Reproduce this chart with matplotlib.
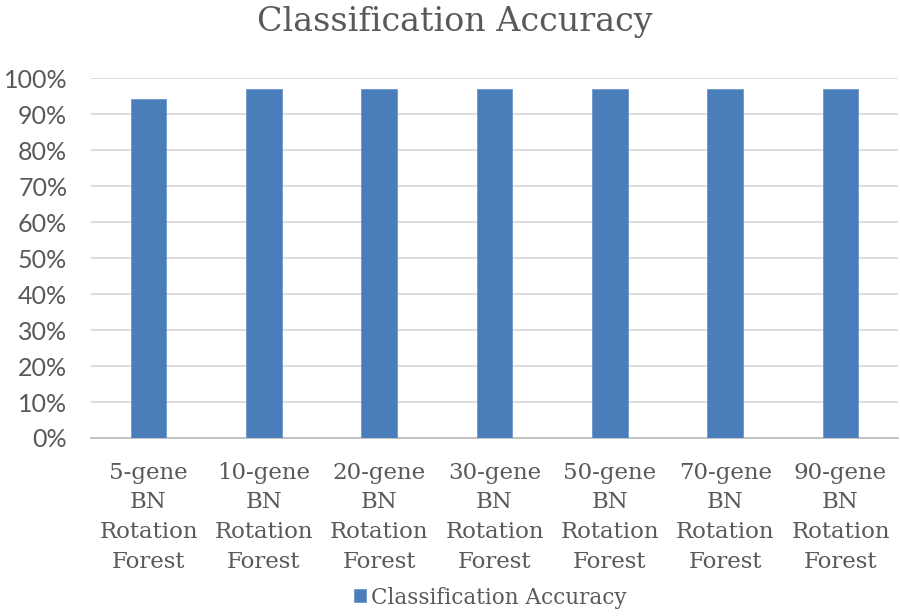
import matplotlib
matplotlib.use("Agg")
import matplotlib.pyplot as plt
from matplotlib.ticker import PercentFormatter

categories = ["5-gene\nBN\nRotation\nForest", "10-gene\nBN\nRotation\nForest",
              "20-gene\nBN\nRotation\nForest", "30-gene\nBN\nRotation\nForest",
              "50-gene\nBN\nRotation\nForest", "70-gene\nBN\nRotation\nForest",
              "90-gene\nBN\nRotation\nForest"]
accuracy = [0.942, 0.970, 0.970, 0.970, 0.970, 0.970, 0.970]
yticks = [0.0, 0.1, 0.2, 0.3, 0.4, 0.5, 0.6, 0.7, 0.8, 0.9, 1.0]

TXT = "#595959"
BAR = "#4a7ebb"
SERIF = "DejaVu Serif"
SANS = "Lato"

fig = plt.figure(figsize=(9, 6.16), dpi=100)
ax = fig.add_axes([0.101, 0.289, 0.897, 0.584])

x = range(len(categories))
ax.bar(x, accuracy, width=0.31, color=BAR, edgecolor="#6d97cc", linewidth=0.6,
       zorder=3, label="Classification Accuracy")

ax.set_xlim(-0.5, len(categories) - 0.5)
ax.set_ylim(0, 1)
ax.set_yticks(yticks)
ax.yaxis.set_major_formatter(PercentFormatter(1.0, decimals=0))
ax.grid(axis="y", color="#d9d9d9", linewidth=1.3, zorder=0)
for s in ["top", "right", "left"]:
    ax.spines[s].set_visible(False)
ax.spines["bottom"].set_color("#bfbfbf")
ax.spines["bottom"].set_linewidth(1.3)
ax.tick_params(axis="both", length=0, colors=TXT)
ax.tick_params(axis="y", pad=17)
ax.tick_params(axis="x", pad=17)

for lab in ax.get_yticklabels():
    lab.set_fontfamily(SANS)
    lab.set_fontsize(18)
ax.set_xticks(list(x))
ax.set_xticklabels(categories, fontfamily=SERIF, fontsize=16.5, color=TXT,
                   linespacing=1.46)

fig.text(0.505, 0.964, "Classification Accuracy", ha="center", va="center",
         fontfamily=SERIF, fontsize=24, color=TXT)

leg = fig.legend(loc="center", bbox_to_anchor=(0.545, 0.03), frameon=False,
                 prop={"family": SERIF, "size": 15.5}, handlelength=0.55,
                 handleheight=0.55, handletextpad=0.25)
for t in leg.get_texts():
    t.set_color(TXT)

fig.savefig("out.png", dpi=100, facecolor="white")
